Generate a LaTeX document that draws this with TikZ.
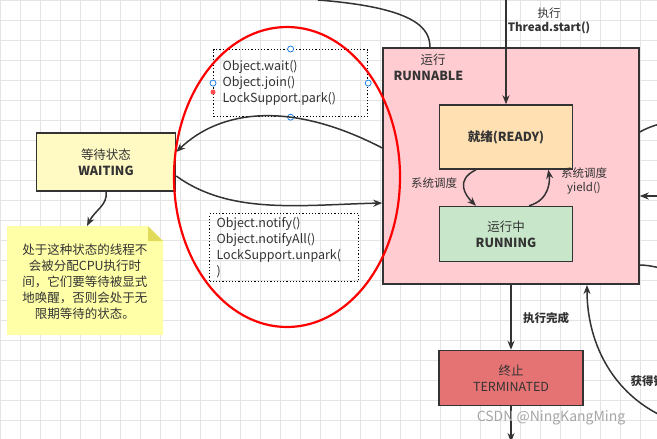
\documentclass[tikz,border=0pt]{standalone}
\usepackage{fontspec}
\setmainfont{Noto Sans CJK SC}
\usetikzlibrary{arrows.meta,positioning}
\definecolor{gridgray}{RGB}{228,228,228}
\definecolor{runpink}{RGB}{255,204,210}
\definecolor{readyorange}{RGB}{255,224,178}
\definecolor{rungreen}{RGB}{200,230,201}
\definecolor{waityellow}{RGB}{255,249,196}
\definecolor{noteyellow}{RGB}{255,255,168}
\definecolor{termred}{RGB}{229,115,115}
\definecolor{linegray}{RGB}{51,51,51}
\definecolor{handleblue}{RGB}{30,130,230}
\tikzset{
  state/.style={draw=linegray,line width=1.5pt,minimum width=133pt,minimum height=60pt,align=center,font=\fontsize{12.5}{16}\selectfont,text=linegray},
  methods/.style={draw=black,dotted,line width=1.2pt,align=left,anchor=north west,inner xsep=9pt,inner ysep=7pt,font=\fontsize{12.5}{16}\selectfont,text=linegray},
  conn/.style={draw=linegray,line width=1.5pt,-{Stealth[length=9pt,width=7pt]}},
  lbl/.style={font=\fontsize{11.5}{14}\selectfont,text=linegray,align=center},
  handle/.style={draw=handleblue,fill=white,circle,inner sep=0pt,minimum size=6pt,line width=0.8pt}
}
\begin{document}
\begin{tikzpicture}[x=1pt,y=-1pt]
\useasboundingbox (0,0) rectangle (657,439);
\clip (0,0) rectangle (657,439);
\fill[white] (0,0) rectangle (657,439);
\foreach \g in {0,20,...,660} \draw[gridgray,line width=0.5pt] (\g,0) -- (\g,439);
\foreach \g in {0,20,...,440} \draw[gridgray,line width=0.5pt] (0,\g) -- (657,\g);

% runnable
\node[state,fill=runpink,minimum width=256pt,minimum height=236pt] (runnable) at (511,166) {};
\node[lbl,font=\fontsize{12.5}{16}\selectfont,anchor=north west,align=left] (runlbl) at (390,50) {\hspace*{27pt}运行\\\textbf{RUNNABLE}};
\node[state,fill=readyorange,minimum height=64pt] (ready) at (506,137) {\textbf{就绪(READY)}};
\node[state,fill=rungreen,minimum height=55pt] (running) at (506,234) {运行中\\\textbf{RUNNING}};
\node[state,fill=waityellow,minimum width=139pt,minimum height=58pt] (waiting) at (106,162) {等待状态\\\textbf{WAITING}};
\node[state,fill=termred,minimum width=144pt,minimum height=55pt] (term) at (511,378) {终止\\TERMINATED};

% note
\fill[noteyellow] (7,226) -- (148,226) -- (163,241) -- (163,335) -- (7,335) -- cycle;
\fill[yellow!55!olive!60] (148,226) -- (163,241) -- (148,241) -- cycle;
\node[align=center,font=\fontsize{12.5}{16}\selectfont,text=linegray] (note) at (85,282) {处于这种状态的线程不\\会被分配CPU执行时\\间，它们要等待被显式\\地唤醒，否则会处于无\\限期等待的状态。};
\coordinate (notetop) at (87,226);

% method boxes
\node[methods,text width=136pt,minimum height=67pt] (waitbox) at (213,49) {Object.wait()\\Object.join()\\LockSupport.park()};
\node[methods,text width=135pt,minimum height=68pt,inner ysep=1pt,inner xsep=7pt] (notifybox) at (209,213) {Object.notify()\\Object.notifyAll()\\LockSupport.unpark(\\)};
\foreach \p in {north,south,east,west}
  \node[handle] at (waitbox.\p) {};
\fill[red!70] ([yshift=-9pt]waitbox.west) circle (2.5pt);

% connectors
\coordinate (topin) at (506,0);
\draw[conn] (topin) -- (ready.north);
\node[lbl] (startlbl) at (549,21) {执行\\\textbf{Thread.start()}};
\draw[linegray,line width=1.5pt] (318,0) .. controls (420,8) and (430,30) .. (430,48);
\draw[conn] ([xshift=-30pt]ready.south) .. controls (455,180) and (465,195) .. ([xshift=-30pt]running.north);
\node[lbl] (sched1) at (434,183) {系统调度};
\draw[conn] ([xshift=23pt]running.north) .. controls (550,200) and (550,180) .. ([xshift=-25pt]ready.south east);
\node[lbl] (sched2) at (584,181) {系统调度\\yield()};
\draw[conn] (runnable.west |- 0,148) .. controls (290,100) and (220,110) .. (waiting.east |- 0,152);
\draw[conn] (waiting.east |- 0,176) .. controls (230,215) and (300,205) .. (runnable.west |- 0,203);
\draw[conn] (waiting.south) .. controls (108,205) and (95,210) .. (notetop);
\draw[conn] (runnable.south -| term.north) -- (term.north);
\node[lbl,font=\bfseries\fontsize{11.5}{14}\selectfont] (donelbl) at (546,318) {执行完成};
\coordinate (termout) at (511,442);
\draw[conn] (term.south) -- (termout);
\coordinate (rightin) at (660,196);
\draw[conn] (rightin) -- (runnable.east |- 0,196);
\draw[linegray,line width=1.5pt] (runnable.east |- 0,132) .. controls (645,129) and (652,126) .. (660,124);
\draw[linegray,line width=1.5pt] (runnable.east |- 0,265) .. controls (645,265) and (652,266) .. (660,268);
\coordinate (lockfrom) at (660,415);
\draw[conn] (lockfrom) .. controls (610,390) and (587,340) .. (587,285);
\node[lbl,font=\bfseries\fontsize{11.5}{14}\selectfont,anchor=west] (locklbl) at (627,381) {获得锁};

% red ellipse
\draw[red,line width=2.2pt] (287,177) ellipse [x radius=113, y radius=150];

\node[text=gray!70,font=\fontsize{14}{16}\selectfont] (mark) at (551,418) {CSDN @NingKangMing};
\end{tikzpicture}
\end{document}
